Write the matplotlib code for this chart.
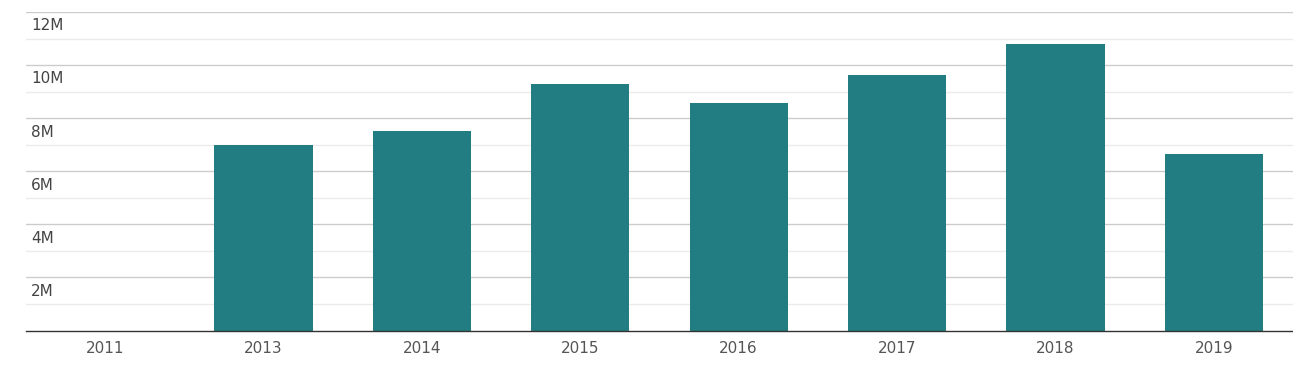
import matplotlib
matplotlib.use("Agg")
import matplotlib.pyplot as plt
from matplotlib.transforms import offset_copy

categories = ["2011", "2013", "2014", "2015", "2016", "2017", "2018", "2019"]
values = [0, 6.98e6, 7.51e6, 9.28e6, 8.57e6, 9.62e6, 10.79e6, 6.64e6]
yticks = [2e6, 4e6, 6e6, 8e6, 10e6, 12e6]
ytick_labels = ["2M", "4M", "6M", "8M", "10M", "12M"]
minor_ticks = [1e6, 3e6, 5e6, 7e6, 9e6, 11e6]

fig = plt.figure(figsize=(12.93, 3.84), dpi=100)
ax = fig.add_axes([26/1293, 1 - 330.5/384, (1293-26)/1293, (330.5-12)/384])

x = list(range(len(categories)))
ax.bar(x, values, width=0.62, color="#217d81", zorder=3)

ax.set_xlim(-0.5, len(categories) - 0.5)
ax.set_ylim(0, 12e6)

for v in minor_ticks:
    ax.axhline(v, color="#ebebeb", lw=1, zorder=1)
for v in yticks:
    ax.axhline(v, color="#cccccc", lw=1, zorder=1)

trans = offset_copy(ax.get_yaxis_transform(), fig=fig, x=3.6, y=-4.6, units="points")
for v, lab in zip(yticks, ytick_labels):
    ax.text(0, v, lab, transform=trans, ha="left", va="top", fontsize=11, color="#444444", zorder=4)

ax.set_yticks([])
ax.set_xticks(x)
ax.set_xticklabels(categories, fontsize=11, color="#555555")
ax.tick_params(axis="x", length=0, pad=7.5)

for s in ["top", "right", "left"]:
    ax.spines[s].set_visible(False)
ax.spines["bottom"].set_color("#333333")
ax.spines["bottom"].set_linewidth(1)
ax.spines["bottom"].set_zorder(5)

fig.savefig("out.png", dpi=100)
